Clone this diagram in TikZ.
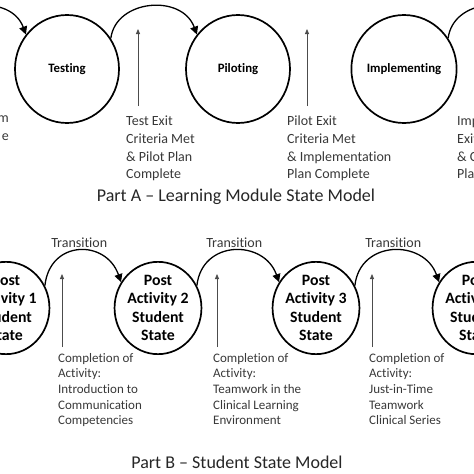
\documentclass[tikz,border=0pt]{standalone}
\usepackage{fontspec}
\setmainfont{Carlito}[Ligatures={NoCommon,NoRare}]
\usetikzlibrary{arrows.meta,shapes.geometric}
\begin{document}
\begin{tikzpicture}[x=1pt,y=-1pt,
    stateA/.style={ellipse,draw,line width=1.7pt,minimum width=104pt,minimum height=108pt,inner sep=0pt,
      font=\fontsize{12.8}{14}\selectfont\bfseries},
    stateB/.style={ellipse,draw,line width=1.7pt,minimum width=86pt,minimum height=88pt,inner sep=0pt,align=center,
      font=\fontsize{15.8}{18.3}\selectfont\bfseries},
    noteA/.style={anchor=north west,inner sep=0pt,align=left,text=black!78,font=\fontsize{14}{17.6}\selectfont},
    noteB/.style={anchor=north west,inner sep=0pt,align=left,text=black!78,font=\fontsize{13}{15.6}\selectfont},
    caption/.style={inner sep=0pt,text=black!85,font=\fontsize{18}{20}\selectfont},
    trans/.style={line width=1.3pt,-{Triangle[length=8pt,width=8pt]}},
    trig/.style={line width=0.8pt,draw=black!70,-{Triangle[length=5pt,width=4pt]}}]
  \useasboundingbox (0,0) rectangle (474,474);
  \clip (0,0) rectangle (474,474);
  \draw
    (67,69) node[stateA] (test){Testing}
    (238,69) node[stateA] (pilot){Piloting}
    (404,69) node[stateA] (impl){Implementing};
  \coordinate (prevA) at (-60,39);
  \coordinate (nextA) at (531,35);
  \node[noteA,anchor=north east,align=right] (designtxt) at (9,116) {m\\e};
  \node[noteA] (testtxt) at (126,116) {Test Exit\\Criteria Met\\\& Pilot Plan\\Complete};
  \node[noteA] (pilottxt) at (287,116) {Pilot Exit\\Criteria Met\\\& Implementation\\Plan Complete};
  \node[noteA] (impltxt) at (457,116) {Implementation\\Exit Criteria Met\\\& Closure\\Plan Complete};
  \coordinate (testlo) at (138,106);
  \coordinate (testhi) at (138,29);
  \coordinate (pilotlo) at (307,106);
  \coordinate (pilothi) at (307,29);
  \node[caption] (partA) at (236,197) {Part A -- Learning Module State Model};
  \begin{scope}[trans]
    \draw (prevA) .. controls +(5,-39) and +(-15,-41) .. (test.140);
    \draw (test.35) .. controls +(5,-39) and +(-15,-41) .. (pilot.140);
    \draw (impl.35) .. controls +(5,-39) and +(-15,-41) .. (nextA);
  \end{scope}
  \begin{scope}[trig]
    \draw (testlo) to (testhi);
    \draw (pilotlo) to (pilothi);
  \end{scope}
  \draw
    (6,308) node[stateB] (s1){Post\\Activity 1\\Student\\State}
    (158,308) node[stateB] (s2){Post\\Activity 2\\Student\\State}
    (316,308) node[stateB] (s3){Post\\Activity 3\\Student\\State}
    (476,308) node[stateB] (s4){Post\\Activity 4\\Student\\State};
  \node[noteB] (c1txt) at (58,353) {Completion of\\Activity:\\Introduction to\\Communication\\Competencies};
  \node[noteB] (c2txt) at (213,353) {Completion of\\Activity:\\Teamwork in the\\Clinical Learning\\Environment};
  \node[noteB] (c3txt) at (369,353) {Completion of\\Activity:\\Just-in-Time\\Teamwork\\Clinical Series};
  \coordinate (c1lo) at (62,347);
  \coordinate (c1hi) at (62,274);
  \coordinate (c2lo) at (217,347);
  \coordinate (c2hi) at (217,274);
  \coordinate (c3lo) at (372,347);
  \coordinate (c3hi) at (372,274);
  \node[caption] (partB) at (237,462) {Part B -- Student State Model};
  \begin{scope}[trans]
    \draw (s1.30) .. controls +(5,-46) and +(-15,-43) .. node[above=2pt,noteA,anchor=south] (t1){Transition} (s2.145);
    \draw (s2.30) .. controls +(5,-46) and +(-15,-43) .. node[above=2pt,noteA,anchor=south] (t2){Transition} (s3.145);
    \draw (s3.30) .. controls +(5,-46) and +(-15,-43) .. node[above=2pt,noteA,anchor=south] (t3){Transition} (s4.145);
  \end{scope}
  \begin{scope}[trig]
    \draw (c1lo) to (c1hi);
    \draw (c2lo) to (c2hi);
    \draw (c3lo) to (c3hi);
  \end{scope}
\end{tikzpicture}
\end{document}
